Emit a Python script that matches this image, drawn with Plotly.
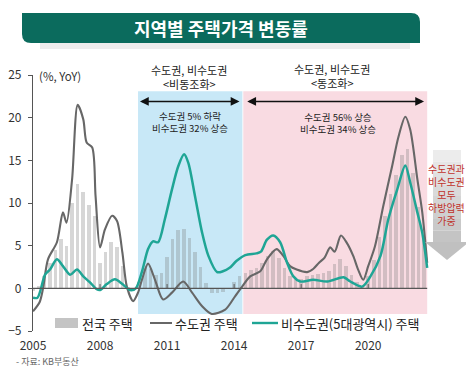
import plotly.graph_objects as go

# ---------------- data ----------------
# 전국 주택 (quarterly, from 2005 Q1)
national_start = 2005.0
national_vals = [
    -0.3, 0.3, 1.5, 3.0,
    4.5, 5.8, 5.0, 10.0,
    12.2, 11.3, 9.8, 8.5,
    3.0, 4.3, 5.4, 4.9,
    2.6, 0.2, -0.3, 0.8,
    2.4, 2.3, 1.6, 1.8,
    3.7, 5.8, 6.8, 7.0,
    5.9, 4.2, 2.5, 0.6,
    -0.5, -0.6, -0.4, 0.0,
    0.7, 1.4, 1.8, 2.1,
    2.4, 3.0, 3.8, 4.4,
    3.6, 2.4, 1.5, 1.1,
    1.1, 1.4, 1.6, 1.7,
    1.8, 2.0, 2.8, 3.4,
    2.6, 1.6, 0.7, 0.3,
    1.5, 3.3, 6.0, 8.5,
    11.0, 13.3, 15.6, 16.3,
    13.5, 9.5, 6.0,
]
national_x = [national_start + 0.25 * i for i in range(len(national_vals))]

# 수도권 주택
capital_x = [2005.0, 2005.3, 2005.45, 2005.67, 2006.07, 2006.34, 2006.5, 2006.75, 2007.0,
             2007.25, 2007.4, 2007.65, 2007.8, 2008.0, 2008.22, 2008.54, 2008.76, 2009.0,
             2009.2, 2009.48, 2009.7, 2009.88, 2010.15, 2010.46, 2010.82, 2011.22, 2011.72,
             2012.12, 2012.57, 2013.0, 2013.6, 2014.05, 2014.3, 2014.72, 2015.17, 2015.47,
             2015.9, 2016.2, 2016.5, 2016.8, 2017.27, 2017.55, 2017.8, 2018.05, 2018.3,
             2018.5, 2018.78, 2019.05, 2019.33, 2019.55, 2019.78, 2020.0, 2020.3, 2020.67,
             2021.07, 2021.35, 2021.66, 2021.88, 2022.2, 2022.42, 2022.64]
capital_vals = [-2.7, -1.6, 0.0, 3.4, 5.4, 8.9, 7.7, 12.8, 21.5,
                19.8, 17.1, 16.5, 10.8, 4.8, 6.9, 8.5, 7.9, 4.2,
                0.2, -1.5, -0.5, 1.05, 2.9, 1.0, -1.3, -0.5, 0.8,
                -0.5, -2.1, -3.0, -2.5, -0.9, 0.0, 1.4, 2.0, 3.4,
                4.6, 3.8, 2.6, 2.2, 1.9, 2.3, 3.0, 3.6, 4.8,
                4.3, 6.2, 5.3, 3.8, 2.2, 1.0, 2.6, 4.9, 9.6,
                14.3, 17.7, 20.1, 18.6, 12.8, 8.9, 3.0]

# 비수도권(5대광역시) 주택
metro_x = [2005.0, 2005.2, 2005.54, 2005.76, 2006.07, 2006.34, 2006.66, 2006.97, 2007.25,
           2007.55, 2007.85, 2008.0, 2008.3, 2008.67, 2009.0, 2009.34, 2009.6, 2009.88,
           2010.15, 2010.37, 2010.6, 2010.9, 2011.22, 2011.5, 2011.76, 2011.95, 2012.25,
           2012.57, 2012.85, 2013.24, 2013.5, 2013.8, 2014.1, 2014.5, 2015.0, 2015.2,
           2015.47, 2015.75, 2016.06, 2016.37, 2016.65, 2016.96, 2017.54, 2018.17, 2018.9,
           2019.2, 2019.73, 2020.1, 2020.55, 2020.9, 2021.3, 2021.66, 2021.88, 2022.2,
           2022.42, 2022.64]
metro_vals = [-1.1, -1.1, 1.6, 2.2, 3.4, 2.6, 1.6, 2.2, 1.4,
              0.7, -0.1, -0.2, 0.5, 1.05, 0.5, -0.2, 0.0, 2.0,
              4.6, 5.5, 5.4, 8.1, 11.6, 14.3, 15.7, 14.7, 10.8,
              6.5, 3.8, 1.9, 2.0, 2.4, 3.2, 3.9, 4.1, 4.3,
              5.7, 6.2, 5.4, 3.0, 1.4, 0.8, 1.0, 0.8, 1.3,
              0.8, 0.2, 1.4, 3.8, 8.1, 11.6, 14.4, 12.4, 8.9,
              6.5, 2.4]

year_ticks = [2005, 2008, 2011, 2014, 2017, 2020]
year_labels = ["2005", "2008", "2011", "2014", "2017", "2020"]
y_ticks = [-5, 0, 5, 10, 15, 20, 25]

decoupled_span = [2009.7, 2014.37]
coupled_span = [2014.37, 2022.64]
data_end = 2022.64

# ---------------- layout helpers ----------------
OFF = 8                      # page body margin of the html page
WIN_W, WIN_H = 474, 367
W, H = WIN_W - OFF, WIN_H - OFF
PLOT_L, PLOT_R, PLOT_T, PLOT_B = 33, 433, 75, 331   # plot area in window pixels
ML, MR = PLOT_L - OFF, W - (PLOT_R - OFF)
MT, MB = PLOT_T - OFF, H - (PLOT_B - OFF)
X_RANGE = [2005.0, 2022.9]
Y_RANGE = [-5, 25]
FONT = "Noto Sans CJK KR"


def P(px):
    return (px - PLOT_L) / (PLOT_R - PLOT_L)


def Q(py):
    return (PLOT_B - py) / (PLOT_B - PLOT_T)


fig = go.Figure()

fig.add_trace(go.Bar(x=national_x, y=national_vals, width=0.16,
                     marker=dict(color="rgba(120,120,120,0.30)", line=dict(width=0)),
                     name="전국 주택", showlegend=False))
fig.add_trace(go.Scatter(x=capital_x, y=capital_vals, mode="lines",
                         line=dict(color="#676767", width=2.1, shape="spline", smoothing=0.8),
                         name="수도권 주택", showlegend=False))
fig.add_trace(go.Scatter(x=metro_x, y=metro_vals, mode="lines",
                         line=dict(color="#1fa595", width=2.5, shape="spline", smoothing=0.8),
                         name="비수도권(5대광역시) 주택", showlegend=False))

shapes = []
# shaded periods
shapes.append(dict(type="rect", xref="x", yref="y", x0=decoupled_span[0], x1=decoupled_span[1],
                   y0=-3.0, y1=23.1, fillcolor="#c8e8f7", line=dict(width=0), layer="below"))
shapes.append(dict(type="rect", xref="x", yref="y", x0=coupled_span[0] + 0.04, x1=coupled_span[1],
                   y0=-3.0, y1=23.1, fillcolor="#f9dbe2", line=dict(width=0), layer="below"))
# zero line
shapes.append(dict(type="line", xref="x", yref="y", x0=X_RANGE[0], x1=data_end, y0=0, y1=0,
                   line=dict(color="#555555", width=1.3)))
for yr in year_ticks[1:]:
    shapes.append(dict(type="line", xref="x", yref="y", x0=yr, x1=yr, y0=0, y1=0.5,
                       line=dict(color="#555555", width=1)))

# title banner (rounded top-right & bottom-left)
bx0, bx1, by0, by1, r = 22, 420, 13, 43, 9
path = (f"M {P(bx0)} {Q(by0)} L {P(bx1 - r)} {Q(by0)} Q {P(bx1)} {Q(by0)} {P(bx1)} {Q(by0 + r)} "
        f"L {P(bx1)} {Q(by1)} L {P(bx0 + r)} {Q(by1)} Q {P(bx0)} {Q(by1)} {P(bx0)} {Q(by1 - r)} Z")
shapes.append(dict(type="rect", xref="paper", yref="paper", x0=P(40), x1=P(410), y0=Q(49), y1=Q(43),
                   fillcolor="rgba(0,0,0,0.07)", line=dict(width=0)))
shapes.append(dict(type="path", xref="paper", yref="paper", path=path,
                   fillcolor="#0b6b5d", line=dict(width=0)))

# down arrow on the right (gradient gray shaft + head)
shaft_top, shaft_bot = 150, 242
bands = 8
for i in range(bands):
    t0 = shaft_top + (shaft_bot - shaft_top) * i / bands
    t1 = shaft_top + (shaft_bot - shaft_top) * (i + 1) / bands
    g = int(236 - 40 * i / (bands - 1))
    shapes.append(dict(type="rect", xref="paper", yref="paper", x0=P(433), x1=P(461),
                       y0=Q(t1), y1=Q(t0), fillcolor=f"rgb({g},{g},{g})", line=dict(width=0)))
shapes.append(dict(type="path", xref="paper", yref="paper",
                   path=f"M {P(425)} {Q(242)} L {P(469)} {Q(242)} L {P(447)} {Q(260)} Z",
                   fillcolor="rgb(192,192,192)", line=dict(width=0)))

# legend swatches
shapes.append(dict(type="rect", xref="paper", yref="paper", x0=P(55), x1=P(78), y0=Q(328), y1=Q(318),
                   fillcolor="#c4c4c4", line=dict(width=0)))
shapes.append(dict(type="line", xref="paper", yref="paper", x0=P(150), x1=P(172), y0=Q(323), y1=Q(323),
                   line=dict(color="#676767", width=2)))
shapes.append(dict(type="line", xref="paper", yref="paper", x0=P(252), x1=P(278), y0=Q(323), y1=Q(323),
                   line=dict(color="#1fa595", width=2.4)))

annotations = []


def txt(text, px, py, size, color="#222222", xanchor="center", bold=False):
    annotations.append(dict(text=f"<b>{text}</b>" if bold else text, xref="paper", yref="paper",
                            x=P(px), y=Q(py), xanchor=xanchor, yanchor="middle", showarrow=False,
                            font=dict(family=FONT, size=size, color=color)))


txt("지역별 주택가격 변동률", 221, 28, 18, color="white", bold=True)
txt("(%, YoY)", 37, 76, 11.5, color="#333333", xanchor="left")

txt("수도권, 비수도권", 189, 70, 11)
txt("&lt;비동조화&gt;", 189, 84, 11)
txt("수도권, 비수도권", 332, 69, 11)
txt("&lt;동조화&gt;", 332, 83, 11)

txt("수도권 5% 하락<br>비수도권 32% 상승", 190, 121.5, 9.5)
txt("수도권 56% 상승<br>비수도권 34% 상승", 338, 122.5, 9.5)

txt("수도권과<br>비수도권<br>모두<br>하방압력<br>가중", 447, 194, 10, color="#c0322b")

txt("전국 주택", 80, 323, 13, xanchor="left")
txt("수도권 주택", 173, 323, 13, xanchor="left")
txt("비수도권(5대광역시) 주택", 279, 323, 13, xanchor="left")

txt("- 자료: KB부동산", 14, 361, 9, color="#666666", xanchor="left")

# double-headed period arrows
for x_from, x_to in [(2009.72, 2014.24), (2014.52, 2022.5)]:
    annotations.append(dict(x=x_to, y=21.9, ax=x_from, ay=21.9, xref="x", yref="y",
                            axref="x", ayref="y", text="", showarrow=True, arrowhead=2,
                            arrowside="end+start", arrowsize=1.1, arrowwidth=1.6,
                            arrowcolor="#111111", standoff=0, startstandoff=0))

fig.update_layout(
    width=W, height=H,
    margin=dict(l=ML, r=MR, t=MT, b=MB, pad=0, autoexpand=False),
    paper_bgcolor="white", plot_bgcolor="white",
    showlegend=False,
    bargap=0,
    font=dict(family=FONT, color="#333333"),
    shapes=shapes,
    annotations=annotations,
    xaxis=dict(range=X_RANGE, tickmode="array", tickvals=year_ticks, ticktext=year_labels,
               showgrid=False, zeroline=False, showline=False, ticks="", automargin=False,
               ticklabelstandoff=6,
               tickfont=dict(family=FONT, size=12, color="#333333")),
    yaxis=dict(range=Y_RANGE, tickmode="array", tickvals=y_ticks, showgrid=False, zeroline=False,
               showline=True, linecolor="#555555", linewidth=1.2, ticks="outside", ticklen=4,
               tickcolor="#555555", ticklabelstandoff=4, automargin=False,
               tickfont=dict(family=FONT, size=12, color="#333333")),
)

fig.write_html("out.html")
